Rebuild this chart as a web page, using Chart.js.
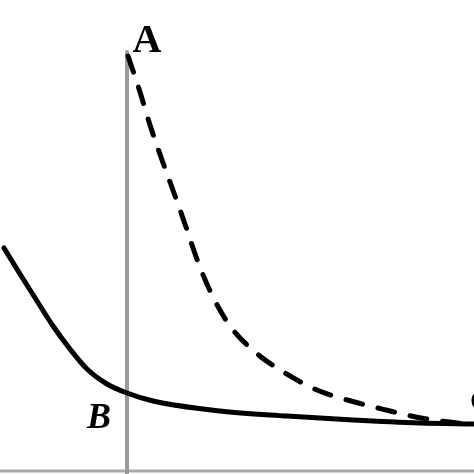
<!DOCTYPE html>
<html>
<head>
<meta charset="utf-8">
<script src="https://cdn.jsdelivr.net/npm/chart.js@4"></script>
<style>
  html, body { margin: 0; padding: 0; background: #fff; }
  #wrap { width: 474px; height: 474px; }
</style>
</head>
<body>
<div id="wrap"><canvas id="c" width="474" height="474"></canvas></div>
<script>
// x: distance from the vertical axis, y: height above the bottom axis
var solidX = [-1.23, -1.07, -0.90, -0.74, -0.57, -0.40, -0.20, 0.00, 0.26, 0.93, 1.60, 2.26, 2.93, 3.47];
var solidY = [2.23, 1.97, 1.70, 1.45, 1.22, 1.02, 0.87, 0.78, 0.70, 0.60, 0.55, 0.51, 0.48, 0.47];

var dashX = [0.01, 0.13, 0.23, 0.35, 0.47, 0.59, 0.71, 0.85, 1.03, 1.28, 1.58, 1.90, 2.24, 2.59, 2.94, 3.30, 3.47];
var dashY = [4.15, 3.79, 3.46, 3.11, 2.78, 2.44, 2.09, 1.76, 1.45, 1.19, 0.98, 0.81, 0.70, 0.61, 0.53, 0.48, 0.47];

var xMin = -1.27, xMax = 3.47;
var yMin = -0.03, yMax = 4.71;
var axisTop = 4.19;

// text labels: [text, x, y]
var labels = [
  ["A", 0.20, 4.19],
  ["B", -0.28, 0.43],
  ["C", 3.43, 0.69]
];

function pts(xs, ys) {
  return xs.map(function (x, i) { return { x: x, y: ys[i] }; });
}

var labelPlugin = {
  id: "labels",
  afterDatasetsDraw: function (chart) {
    var ctx = chart.ctx;
    var sx = chart.scales.x, sy = chart.scales.y;
    ctx.save();
    ctx.fillStyle = "#000";
    ctx.textBaseline = "alphabetic";
    // A
    ctx.font = "bold 40px 'Liberation Serif', 'DejaVu Serif', serif";
    ctx.textAlign = "center";
    ctx.fillText(labels[0][0], sx.getPixelForValue(labels[0][1]), sy.getPixelForValue(labels[0][2]));
    // B
    ctx.font = "italic bold 36px 'Liberation Serif', 'DejaVu Serif', serif";
    ctx.fillText(labels[1][0], sx.getPixelForValue(labels[1][1]), sy.getPixelForValue(labels[1][2]));
    // C (cut off at the right edge)
    ctx.font = "bold 30px 'Liberation Serif', 'DejaVu Serif', serif";
    ctx.textAlign = "left";
    ctx.textBaseline = "middle";
    ctx.fillText(labels[2][0], sx.getPixelForValue(labels[2][1]), sy.getPixelForValue(labels[2][2]));
    ctx.restore();
  }
};

var ctx = document.getElementById("c").getContext("2d");
var chart = new Chart(ctx, {
  type: "line",
  data: {
    datasets: [
      {
        label: "y-axis",
        data: pts([0, 0], [yMin, axisTop]),
        borderColor: "#9a9a9a",
        borderWidth: 4,
        pointRadius: 0,
        borderCapStyle: "round",
        order: 3
      },
      {
        label: "x-axis",
        data: pts([xMin, xMax], [0, 0]),
        borderColor: "#a8a8a8",
        borderWidth: 3,
        pointRadius: 0,
        order: 3
      },
      {
        label: "solid",
        data: pts(solidX, solidY),
        borderColor: "#000",
        borderWidth: 5,
        pointRadius: 0,
        cubicInterpolationMode: "monotone",
        borderCapStyle: "round",
        order: 1
      },
      {
        label: "dashed",
        data: pts(dashX, dashY),
        borderColor: "#000",
        borderWidth: 5,
        borderDash: [17, 16],
        borderCapStyle: "round",
        pointRadius: 0,
        cubicInterpolationMode: "monotone",
        order: 2
      }
    ]
  },
  options: {
    responsive: false,
    animation: { duration: 0 },
    layout: { padding: 0 },
    plugins: {
      legend: { display: false },
      tooltip: { enabled: false }
    },
    scales: {
      x: { type: "linear", min: xMin, max: xMax, display: false },
      y: { type: "linear", min: yMin, max: yMax, display: false }
    }
  },
  plugins: [labelPlugin]
});
</script>
</body>
</html>
